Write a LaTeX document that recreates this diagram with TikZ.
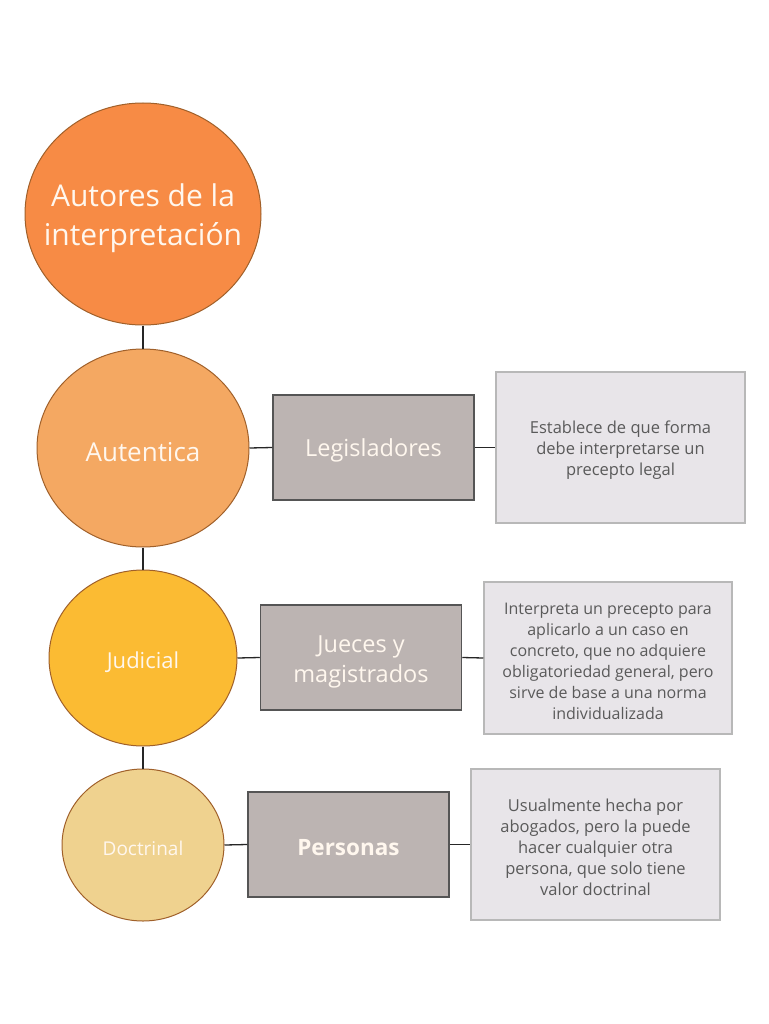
\documentclass[tikz,border=0pt]{standalone}
\usepackage{fontspec}
\setmainfont{Open Sans}
\usetikzlibrary{shapes.geometric}
\definecolor{c0}{HTML}{F78B45}
\definecolor{c1}{HTML}{F4A862}
\definecolor{c2}{HTML}{FBBB33}
\definecolor{c3}{HTML}{EFD28F}
\definecolor{ring}{HTML}{A0602A}
\definecolor{boxfill}{HTML}{BCB4B2}
\definecolor{boxline}{HTML}{555555}
\definecolor{descfill}{HTML}{E8E5E9}
\definecolor{descline}{HTML}{B8B8B8}
\definecolor{desctext}{HTML}{5A5A5A}
\definecolor{wtext}{HTML}{FFF7EE}
\tikzset{
  bubble/.style={ellipse, draw=ring, line width=1pt, inner sep=0pt},
  btext/.style={text=wtext, align=center, inner sep=0pt, yshift=-4pt},
  rolebox/.style={rectangle, draw=boxline, line width=1.5pt, fill=boxfill, minimum width=201pt, minimum height=105pt, inner sep=0pt},
  descbox/.style={rectangle, draw=descline, line width=1.5pt, fill=descfill, minimum width=249pt, minimum height=151pt, inner sep=0pt},
  dtext/.style={text=desctext, align=center, inner sep=0pt, yshift=-3pt, font=\fontsize{16.5}{21}\selectfont},
  link/.style={draw=black!85, line width=1.3pt}
}
\begin{document}
\begin{tikzpicture}[x=1pt,y=-1pt]
\useasboundingbox[fill=white] (0,0) rectangle (768,1024);
\node[bubble, fill=c0, minimum width=236pt, minimum height=222pt] (root) at (143,214) {};
\node[btext, font=\fontsize{30}{39}\selectfont] (roott) at (root.center) {Autores de la\\interpretación};
\node[bubble, fill=c1, minimum width=212pt, minimum height=198pt] (aut) at (143,448) {};
\node[btext, font=\fontsize{26}{30}\selectfont] (autt) at (aut.center) {Autentica};
\node[bubble, fill=c2, minimum width=188pt, minimum height=176pt] (jud) at (143,658) {};
\node[btext, font=\fontsize{22}{26}\selectfont] (judt) at (jud.center) {Judicial};
\node[bubble, fill=c3, minimum width=162pt, minimum height=152pt] (doc) at (143,845) {};
\node[btext, yshift=1pt, font=\fontsize{19}{22}\selectfont] (doct) at (doc.center) {Doctrinal};
\node[rolebox] (leg) at (373.5,447.5) {};
\node[btext, yshift=1pt, font=\fontsize{23.5}{29}\selectfont] (legt) at (leg.center) {Legisladores};
\node[rolebox] (jue) at (361,657.5) {};
\node[btext, font=\fontsize{23.5}{30}\selectfont] (juet) at (jue.center) {Jueces y\\magistrados};
\node[rolebox] (per) at (348.5,844.5) {};
\node[btext, yshift=1pt, font=\bfseries\fontsize{22.5}{28}\selectfont] (pert) at (per.center) {Personas};
\node[descbox] (d1) at (620.5,447.5) {};
\node[dtext] (d1t) at (d1.center) {Establece de que forma\\debe interpretarse un\\precepto legal};
\node[descbox, minimum width=248pt, minimum height=152pt] (d2) at (608,658) {};
\node[dtext, font=\fontsize{16}{21}\selectfont] (d2t) at (d2.center) {Interpreta un precepto para\\aplicarlo a un caso en\\concreto, que no adquiere\\obligatoriedad general, pero\\sirve de base a una norma\\individualizada};
\node[descbox] (d3) at (595.5,844.5) {};
\node[dtext] (d3t) at (d3.center) {Usualmente hecha por\\abogados, pero la puede\\hacer cualquier otra\\persona, que solo tiene\\valor doctrinal};
\draw[link] (root.south) -- (aut.north);
\draw[link] (aut.south) -- (jud.north);
\draw[link] (jud.south) -- (doc.north);
\draw[link] (aut.east) -- (leg.west);
\draw[link] (leg.east) -- (d1.west);
\draw[link] (jud.east) -- (jue.west);
\draw[link] (jue.east) -- (d2.west);
\draw[link] (doc.east) -- (per.west);
\draw[link] (per.east) -- (d3.west);
\end{tikzpicture}
\end{document}
